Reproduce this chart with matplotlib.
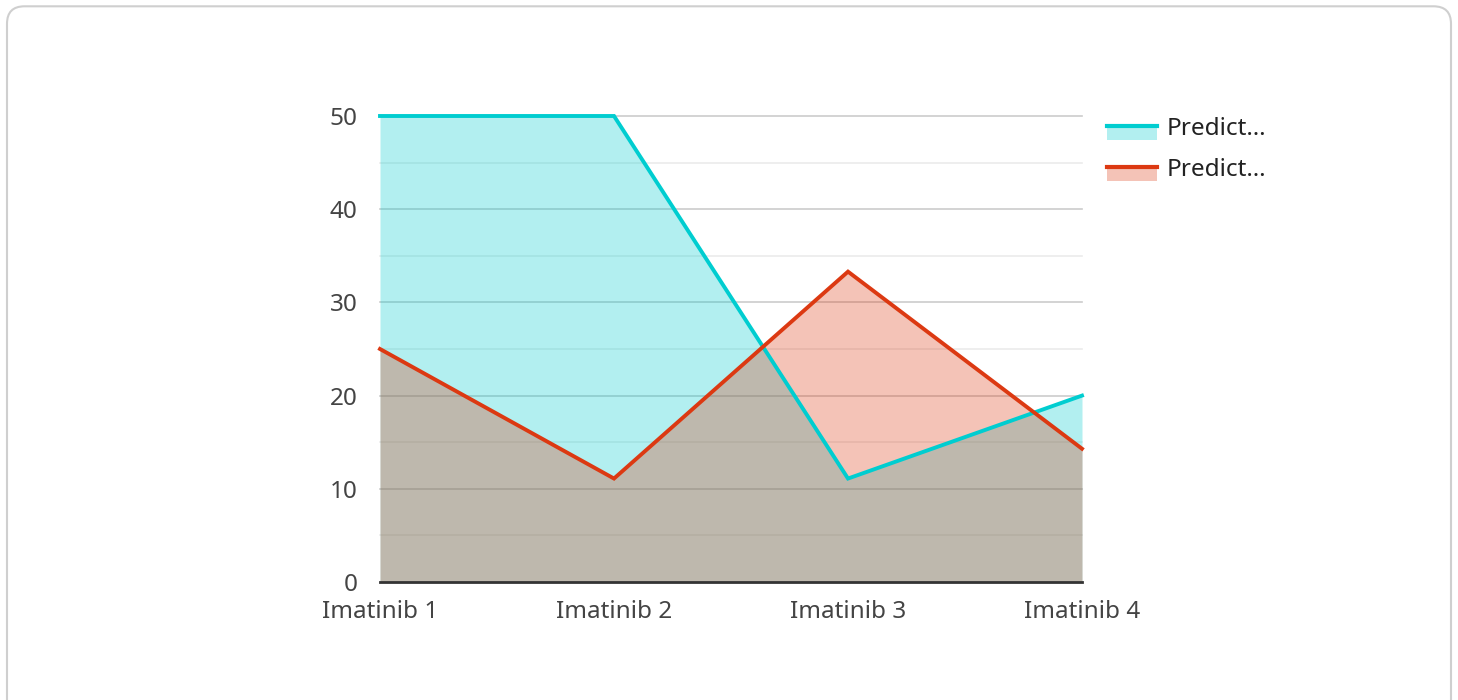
"""Area chart of two prediction series over four Imatinib samples."""

import matplotlib

matplotlib.use("Agg")
import matplotlib.pyplot as plt
from matplotlib.lines import Line2D
from matplotlib.patches import FancyBboxPatch, Rectangle

plt.rcParams["font.family"] = ["Noto Sans", "DejaVu Sans"]

# ---- data ------------------------------------------------------------------
categories = ["Imatinib 1", "Imatinib 2", "Imatinib 3", "Imatinib 4"]
series_names = ["Predict…", "Predict…"]
cyan_values = [50, 50, 11.1, 20]
red_values = [25, 11.1, 33.3, 14.3]
y_ticks = [0, 10, 20, 30, 40, 50]

CYAN = "#00CDD0"
RED = "#DC3912"
TEXT = "#444444"
FONT_SIZE = 17.5

fig = plt.figure(figsize=(14.58, 7), dpi=100)

# card outline (runs off the bottom edge like the source screenshot)
card = FancyBboxPatch(
    (7 / 1458, -0.05), 1444 / 1458, 1.041,
    boxstyle="round,pad=0,rounding_size=0.012",
    transform=fig.transFigure, facecolor="white", edgecolor="#cfcfcf",
    linewidth=1.5, mutation_aspect=1458 / 700, zorder=-1,
)
fig.add_artist(card)

ax = fig.add_axes([380 / 1458, 118 / 700, 702 / 1458, 466 / 700])
ax.set_facecolor("none")
x = list(range(len(categories)))

# gridlines: major every 10, minor every 5
for v in range(5, 51, 5):
    ax.axhline(v, color="#cccccc" if v % 10 == 0 else "#ebebeb",
               linewidth=1.2, zorder=0, clip_on=False)

for vals, color in ((cyan_values, CYAN), (red_values, RED)):
    ax.fill_between(x, 0, vals, color=color, alpha=0.3, linewidth=0, zorder=1)
for vals, color in ((cyan_values, CYAN), (red_values, RED)):
    ax.plot(x, vals, color=color, linewidth=2.8, zorder=3,
            solid_joinstyle="miter", clip_on=False)

ax.axhline(0, color="#333333", linewidth=2, zorder=4, clip_on=False)

ax.set_xlim(0, len(categories) - 1)
ax.set_ylim(0, 50)
ax.set_xticks(x)
ax.set_xticklabels(categories)
ax.set_yticks(y_ticks)
ax.tick_params(axis="both", length=0, labelsize=FONT_SIZE, labelcolor=TEXT)
ax.tick_params(axis="y", pad=16)
ax.tick_params(axis="x", pad=13)
for s in ax.spines.values():
    s.set_visible(False)

# legend swatches: fill block with the line along its top
for i, (name, color) in enumerate(zip(series_names, (CYAN, RED))):
    top = 1 - (126 + 41 * i) / 700
    fig.add_artist(Rectangle((1107 / 1458, top - 14 / 700), 50 / 1458, 14 / 700,
                             transform=fig.transFigure, facecolor=color,
                             alpha=0.3, linewidth=0))
    fig.add_artist(Line2D([1107 / 1458, 1157 / 1458], [top, top],
                          transform=fig.transFigure, color=color, linewidth=3))
    fig.text(1167 / 1458, top - 3 / 700, name, fontsize=FONT_SIZE,
             color="#222222", va="center", ha="left")

fig.savefig("out.png", dpi=100)
